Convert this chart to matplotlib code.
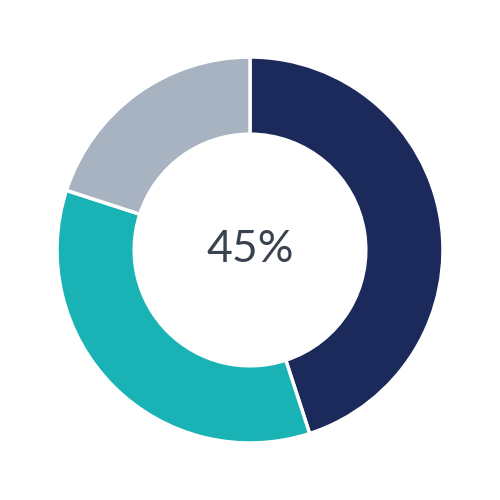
import matplotlib
matplotlib.use("Agg")
import matplotlib.pyplot as plt

labels = ["Navy", "Teal", "Gray"]
values = [45, 35, 20]
colors = ["#1b2a5a", "#1ab3b5", "#a8b3c2"]
center_text = "45%"

fig = plt.figure(figsize=(5, 5), dpi=100)
ax = fig.add_axes([0, 0, 1, 1])
ax.pie(values, colors=colors, startangle=90, counterclock=False, radius=1.0,
       wedgeprops=dict(width=0.40, edgecolor="white", linewidth=2.5))
lim = 250 / 193
ax.set_xlim(-lim, lim)
ax.set_ylim(-lim, lim)
ax.set_aspect("equal")
ax.axis("off")
ax.text(0, 0, center_text, ha="center", va="center", fontsize=32,
        family=["Lato", "DejaVu Sans"], color="#3a4250")
fig.savefig("out.png", dpi=100)
